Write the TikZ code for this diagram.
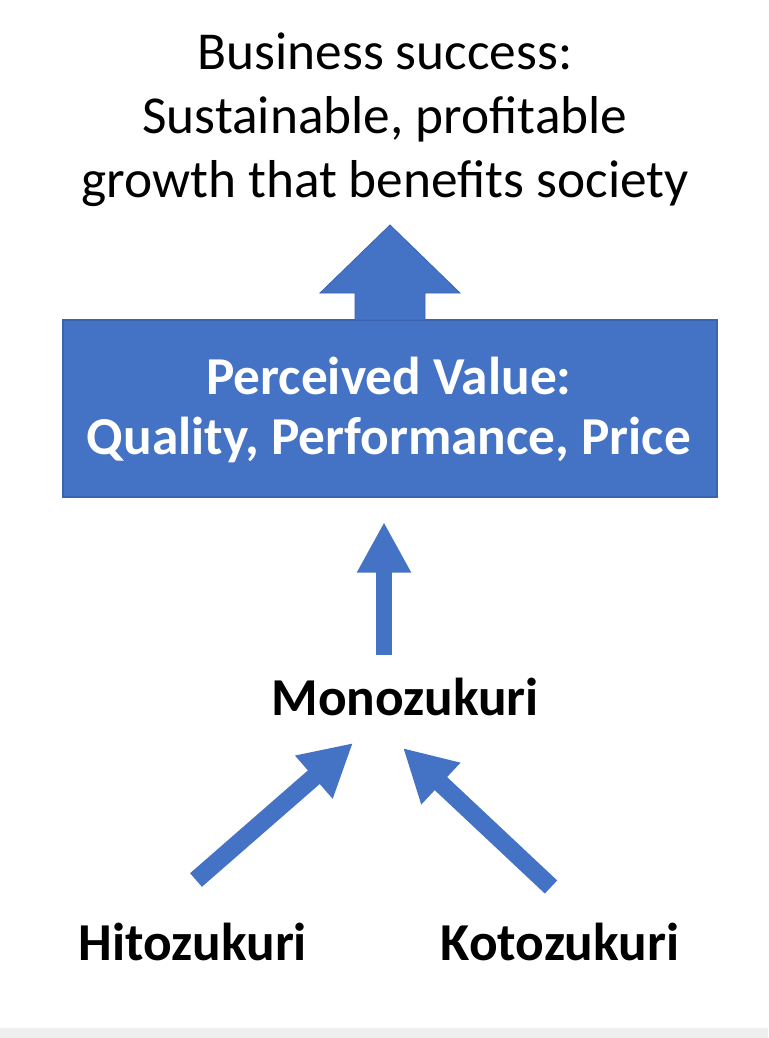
\documentclass[tikz,border=0pt]{standalone}
\usepackage{fontspec}
\setmainfont{Carlito}
\usetikzlibrary{arrows.meta}
\definecolor{mblue}{HTML}{4472C4}
\definecolor{mborder}{HTML}{3A64B0}
\definecolor{band}{HTML}{EFEFEF}
\tikzset{
  title/.style={align=center, font=\fontsize{40}{48}\selectfont, inner sep=0pt},
  boxtext/.style={align=center, font=\bfseries\fontsize{40}{45}\selectfont, text=white},
  label/.style={font=\bfseries\fontsize{40}{44}\selectfont, inner sep=0pt},
  bluearrow/.style={draw=mblue, line width=12.5pt, -{Triangle[length=38pt,width=38pt]}},
  diagarrow/.style={draw=mblue, line width=13.5pt, -{Triangle[length=39pt,width=40pt]}},
}
\begin{document}
\begin{tikzpicture}[x=0.75pt,y=-0.75pt]
\fill[white] (0,0) rectangle (768,1038);
\fill[band] (0,1028) rectangle (768,1038);
\useasboundingbox (0,0) rectangle (768,1038);

\node[title] (goal) at (385,120) {Business success:\\Sustainable, profitable\\growth that benefits society};

\node[draw=mborder, fill=mblue, line width=1pt, minimum width=654*0.75pt, minimum height=177*0.75pt, inner sep=0pt] (value) at (390,408.5) {};
\node[boxtext] (vtext) at (389,410) {Perceived Value:\\Quality, Performance, Price};

% block arrow from box to goal
\fill[mblue, draw=mborder, line width=0.6pt] (355,320) -- (355,293) -- (320,293) -- (390,225) -- (460,293) -- (425,293) -- (425,320) -- cycle;

\node[label] (mono) at (405,697) {Monozukuri};
\node[label] (hito) at (193,942) {Hitozukuri};
\node[label] (koto) at (560,942) {Kotozukuri};

\coordinate (upS) at (384,655);
\coordinate (upT) at (384,522);
\draw[bluearrow] (upS) -- (upT);

\coordinate (lS) at (196,880);
\coordinate (lT) at (353,743);
\draw[diagarrow] (lS) -- (lT);

\coordinate (rS) at (551,887);
\coordinate (rT) at (403,748);
\draw[diagarrow] (rS) -- (rT);
\end{tikzpicture}
\end{document}
